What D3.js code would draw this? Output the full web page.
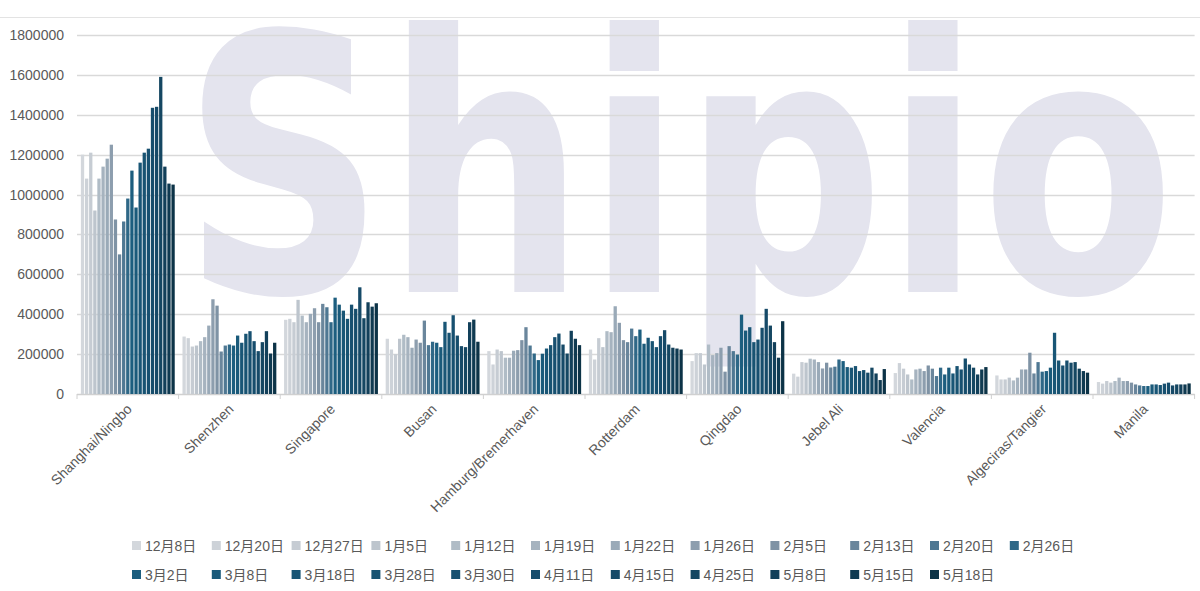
<!DOCTYPE html>
<html>
<head>
<meta charset="utf-8">
<script src="https://cdn.jsdelivr.net/npm/d3@7"></script>
<style>
  body { margin: 0; background: #fff; }
  text { font-family: "Liberation Sans", Arial, "Noto Sans CJK SC", sans-serif; }
</style>
</head>
<body>
<div id="chart"></div>
<script>
var width = 1200, height = 591;
var margin = {top: 35, right: 5, bottom: 197, left: 77};

// ports (x categories)
var ports = ['Shanghai/Ningbo', 'Shenzhen', 'Singapore', 'Busan', 'Hamburg/Bremerhaven',
  'Rotterdam', 'Qingdao', 'Jebel Ali', 'Valencia', 'Algeciras/Tangier', 'Manila'];

// survey dates (series)
var dates = ['12月8日', '12月20日', '12月27日', '1月5日', '1月12日', '1月19日', '1月22日', '1月26日',
  '2月5日', '2月13日', '2月20日', '2月26日', '3月2日', '3月8日', '3月18日', '3月28日', '3月30日',
  '4月11日', '4月15日', '4月25日', '5月8日', '5月15日', '5月18日'];

var colors = ['#d3d7dc', '#cdd2d8', '#c6ccd3', '#bdc5cd', '#b0bcc6', '#a6b3bf', '#9aaab8', '#8d9eae',
  '#7f93a5', '#6a869c', '#4f7893', '#2f6887', '#1c5e7f', '#1a5a7a', '#195676', '#185372',
  '#175070', '#164d6c', '#164a68', '#154762', '#12405a', '#0f3a51', '#0c3347'];

// values per port, one per date
var shanghai  = [1200000, 1080000, 1210000, 920000, 1080000, 1140000, 1180000, 1250000, 875000, 700000, 865000, 980000, 1120000, 935000, 1160000, 1210000, 1230000, 1435000, 1440000, 1590000, 1140000, 1055000, 1050000];
var shenzhen  = [288000, 280000, 238000, 243000, 265000, 285000, 343000, 475000, 443000, 213000, 243000, 248000, 243000, 293000, 257000, 302000, 315000, 265000, 215000, 260000, 315000, 203000, 257000];
var singapore = [372000, 377000, 360000, 472000, 393000, 360000, 402000, 430000, 360000, 452000, 435000, 360000, 483000, 448000, 418000, 377000, 448000, 427000, 535000, 380000, 460000, 438000, 455000];
var busan     = [277000, 223000, 200000, 277000, 297000, 285000, 232000, 273000, 257000, 368000, 245000, 262000, 257000, 235000, 362000, 307000, 395000, 293000, 240000, 235000, 360000, 373000, 262000];
var hamburg   = [215000, 148000, 223000, 215000, 182000, 182000, 217000, 220000, 270000, 335000, 243000, 203000, 170000, 202000, 228000, 245000, 285000, 303000, 248000, 203000, 317000, 277000, 245000];
var rotterdam = [223000, 173000, 280000, 235000, 315000, 310000, 440000, 357000, 270000, 260000, 328000, 290000, 323000, 252000, 282000, 265000, 235000, 290000, 320000, 248000, 232000, 228000, 223000];
var qingdao   = [165000, 205000, 205000, 148000, 248000, 195000, 205000, 232000, 112000, 240000, 215000, 198000, 398000, 318000, 335000, 260000, 273000, 332000, 427000, 343000, 260000, 182000, 365000];
var jebelAli  = [102000, 87000, 160000, 157000, 177000, 173000, 160000, 128000, 157000, 133000, 137000, 173000, 165000, 135000, 132000, 140000, 115000, 120000, 107000, 132000, 103000, 70000, 125000];
var valencia  = [105000, 155000, 127000, 98000, 73000, 123000, 127000, 115000, 143000, 127000, 90000, 132000, 98000, 132000, 103000, 140000, 123000, 178000, 148000, 132000, 98000, 123000, 135000];
var algeciras = [93000, 73000, 73000, 82000, 68000, 82000, 123000, 123000, 207000, 103000, 160000, 112000, 115000, 132000, 307000, 168000, 143000, 168000, 157000, 160000, 127000, 115000, 107000];
var manila    = [60000, 52000, 65000, 57000, 65000, 82000, 65000, 65000, 57000, 48000, 43000, 40000, 40000, 48000, 48000, 45000, 52000, 57000, 43000, 48000, 48000, 48000, 53000];

var values = [shanghai, shenzhen, singapore, busan, hamburg, rotterdam, qingdao, jebelAli, valencia, algeciras, manila];
var yTicks = [0, 200000, 400000, 600000, 800000, 1000000, 1200000, 1400000, 1600000, 1800000];

var svg = d3.select('#chart').append('svg')
    .attr('width', width)
    .attr('height', height);

var bandW = 101.6;
var plotRight = margin.left + ports.length * bandW;

// scales
var x0 = d3.scaleBand().domain(ports).range([margin.left, plotRight]).paddingInner(0.06).paddingOuter(0.03);
var x1 = d3.scaleBand().domain(dates).range([0, x0.bandwidth()]).padding(0.2);
var y = d3.scaleLinear().domain([0, 1800000]).range([394, margin.top]);

// top border line
svg.append('line')
    .attr('x1', 0).attr('x2', width)
    .attr('y1', 17.5).attr('y2', 17.5)
    .attr('stroke', '#e3e3e3');

// watermark
svg.append('text')
    .attr('x', 182).attr('y', 292)
    .attr('textLength', 993)
    .attr('lengthAdjust', 'spacingAndGlyphs')
    .style('font-family', '"DejaVu Sans", sans-serif')
    .style('font-weight', 'bold')
    .style('font-size', '358px')
    .attr('fill', '#e4e4ee')
    .text('Shipio');

// gridlines + y labels
var yAxis = svg.append('g');
yAxis.selectAll('line').data(yTicks).enter().append('line')
    .attr('x1', margin.left).attr('x2', plotRight)
    .attr('y1', function(d) { return Math.round(y(d)) + 0.5; })
    .attr('y2', function(d) { return Math.round(y(d)) + 0.5; })
    .attr('stroke', function(d) { return d === 0 ? '#d0d0d0' : '#d9d9d9'; })
    .attr('stroke-width', 1.3);
yAxis.selectAll('text').data(yTicks).enter().append('text')
    .attr('x', 64)
    .attr('y', function(d) { return y(d) + 5; })
    .attr('text-anchor', 'end')
    .attr('fill', '#595959')
    .style('font-size', '14px')
    .text(function(d) { return d; });

// category ticks on x axis
var catEdges = d3.range(ports.length + 1).map(function(i) { return margin.left + i * bandW; });
svg.selectAll('.xtick').data(catEdges).enter().append('line')
    .attr('class', 'xtick')
    .attr('x1', function(d) { return d; }).attr('x2', function(d) { return d; })
    .attr('y1', 394).attr('y2', 399)
    .attr('stroke', '#d0d0d0');

// bars
var groups = svg.selectAll('.grp').data(ports).enter().append('g')
    .attr('class', 'grp')
    .attr('transform', function(d) { return 'translate(' + x0(d) + ',0)'; });

groups.selectAll('rect')
    .data(function(d, i) { return values[i].map(function(v, j) { return {date: dates[j], v: v, c: colors[j]}; }); })
    .enter().append('rect')
    .attr('x', function(d) { return x1(d.date); })
    .attr('width', x1.bandwidth())
    .attr('y', function(d) { return y(d.v); })
    .attr('height', function(d) { return 394 - y(d.v); })
    .attr('fill', function(d) { return d.c; });

// x labels
svg.selectAll('.xlab').data(ports).enter().append('text')
    .attr('class', 'xlab')
    .attr('transform', function(d) { return 'translate(' + (x0(d) + x0.bandwidth() / 2 + 5) + ',410) rotate(-45)'; })
    .attr('text-anchor', 'end')
    .attr('fill', '#595959')
    .style('font-size', '14px')
    .text(function(d) { return d; });

// legend, 12 columns
var legend = svg.selectAll('.leg').data(dates).enter().append('g')
    .attr('class', 'leg')
    .attr('transform', function(d, i) {
      return 'translate(' + (132 + (i % 12) * 79.8) + ',' + (i < 12 ? 546 : 575) + ')';
    });
legend.append('rect')
    .attr('x', 0).attr('y', -5)
    .attr('width', 9).attr('height', 9)
    .attr('fill', function(d, i) { return colors[i]; });
legend.append('text')
    .attr('x', 13).attr('y', 5)
    .attr('fill', '#595959')
    .style('font-size', '14px')
    .text(function(d) { return d; });
</script>
</body>
</html>
